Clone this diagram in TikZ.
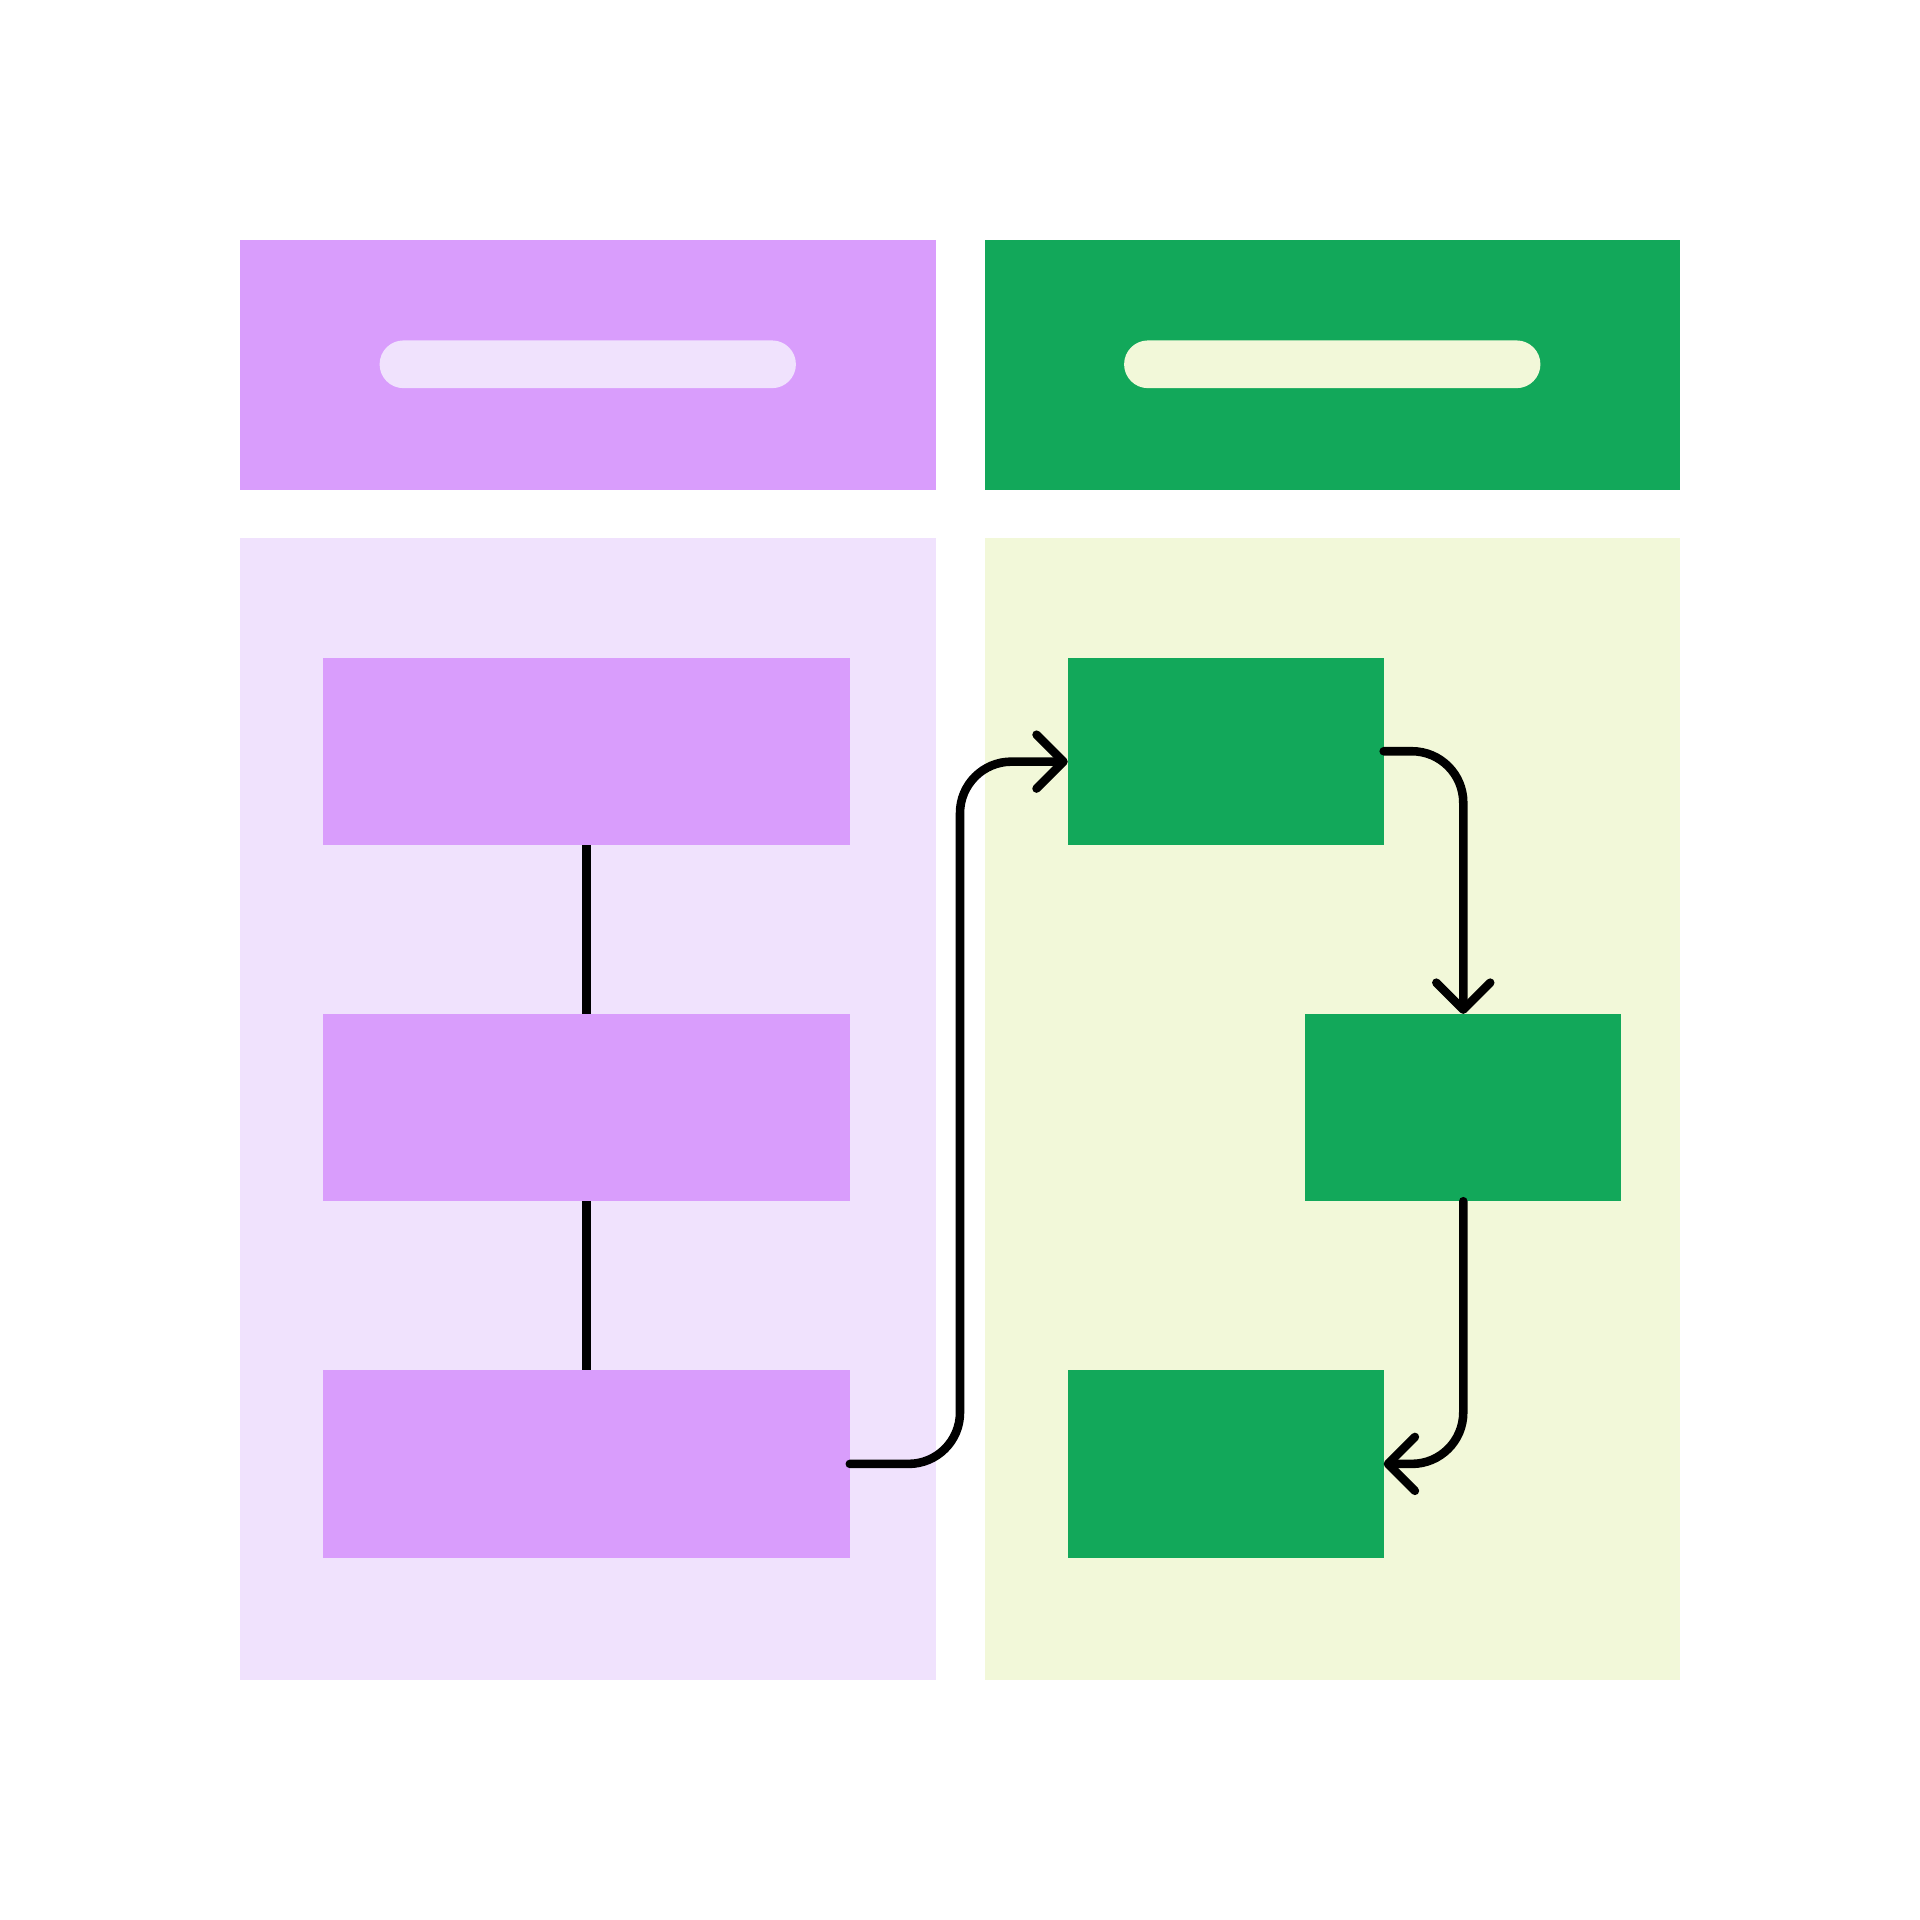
\documentclass[tikz,border=0pt]{standalone}
\usetikzlibrary{arrows.meta}
\definecolor{lilac}{HTML}{D99DFC}
\definecolor{lilacpale}{HTML}{F0E2FD}
\definecolor{grn}{HTML}{12A85A}
\definecolor{grnpale}{HTML}{F2F8D9}
\begin{document}
\begin{tikzpicture}[x=0.5pt,y=-0.5pt,
  box/.style={rectangle,inner sep=0pt,outer sep=0pt,draw=none},
  header/.style={box,minimum width=284pt,minimum height=102pt},
  lane/.style={box,minimum width=284pt,minimum height=466.5pt},
  pill/.style={box,minimum width=170pt,minimum height=19.5pt,rounded corners=9.75pt},
  lbox/.style={box,fill=lilac,minimum width=215pt,minimum height=76.5pt},
  gbox/.style={box,fill=grn,minimum width=129pt,minimum height=76.5pt},
  link/.style={line width=3.6pt,black},
  arr/.style={line width=3.5pt,black,line cap=round,line join=round,rounded corners=21pt,
    -{Straight Barb[length=11pt,width=22pt,round,line width=3.5pt]}}
]
\useasboundingbox (0,0) rectangle (1568,1568);
\fill[white] (0,0) rectangle (1568,1568);
% headers
\node[header,fill=lilac] (hL) at (480,298) {};
\node[header,fill=grn] (hR) at (1088,298) {};
\node[pill,fill=lilacpale] (pL) at (480,297.5) {};
\node[pill,fill=grnpale] (pR) at (1088,297.5) {};
% lanes
\node[lane,fill=lilacpale] (bL) at (480,905.5) {};
\node[lane,fill=grnpale] (bR) at (1088,905.5) {};
% boxes
\node[lbox] (L1) at (479,613.5) {};
\node[lbox] (L2) at (479,904.5) {};
\node[lbox] (L3) at (479,1195.5) {};
\node[gbox] (G1) at (1001,613.5) {};
\node[gbox] (G2) at (1195,904.5) {};
\node[gbox] (G3) at (1001,1195.5) {};
% connectors
\draw[link] (L1.south) -- (L2.north);
\draw[link] (L2.south) -- (L3.north);
\coordinate (a1) at (784,622);
\draw[arr] (L3.east) -| (a1) -- (a1 -| G1.west);
\draw[arr] (G1.east) -| (G2.north);
\draw[arr] (G2.south) |- (G3.east);
\end{tikzpicture}
\end{document}
